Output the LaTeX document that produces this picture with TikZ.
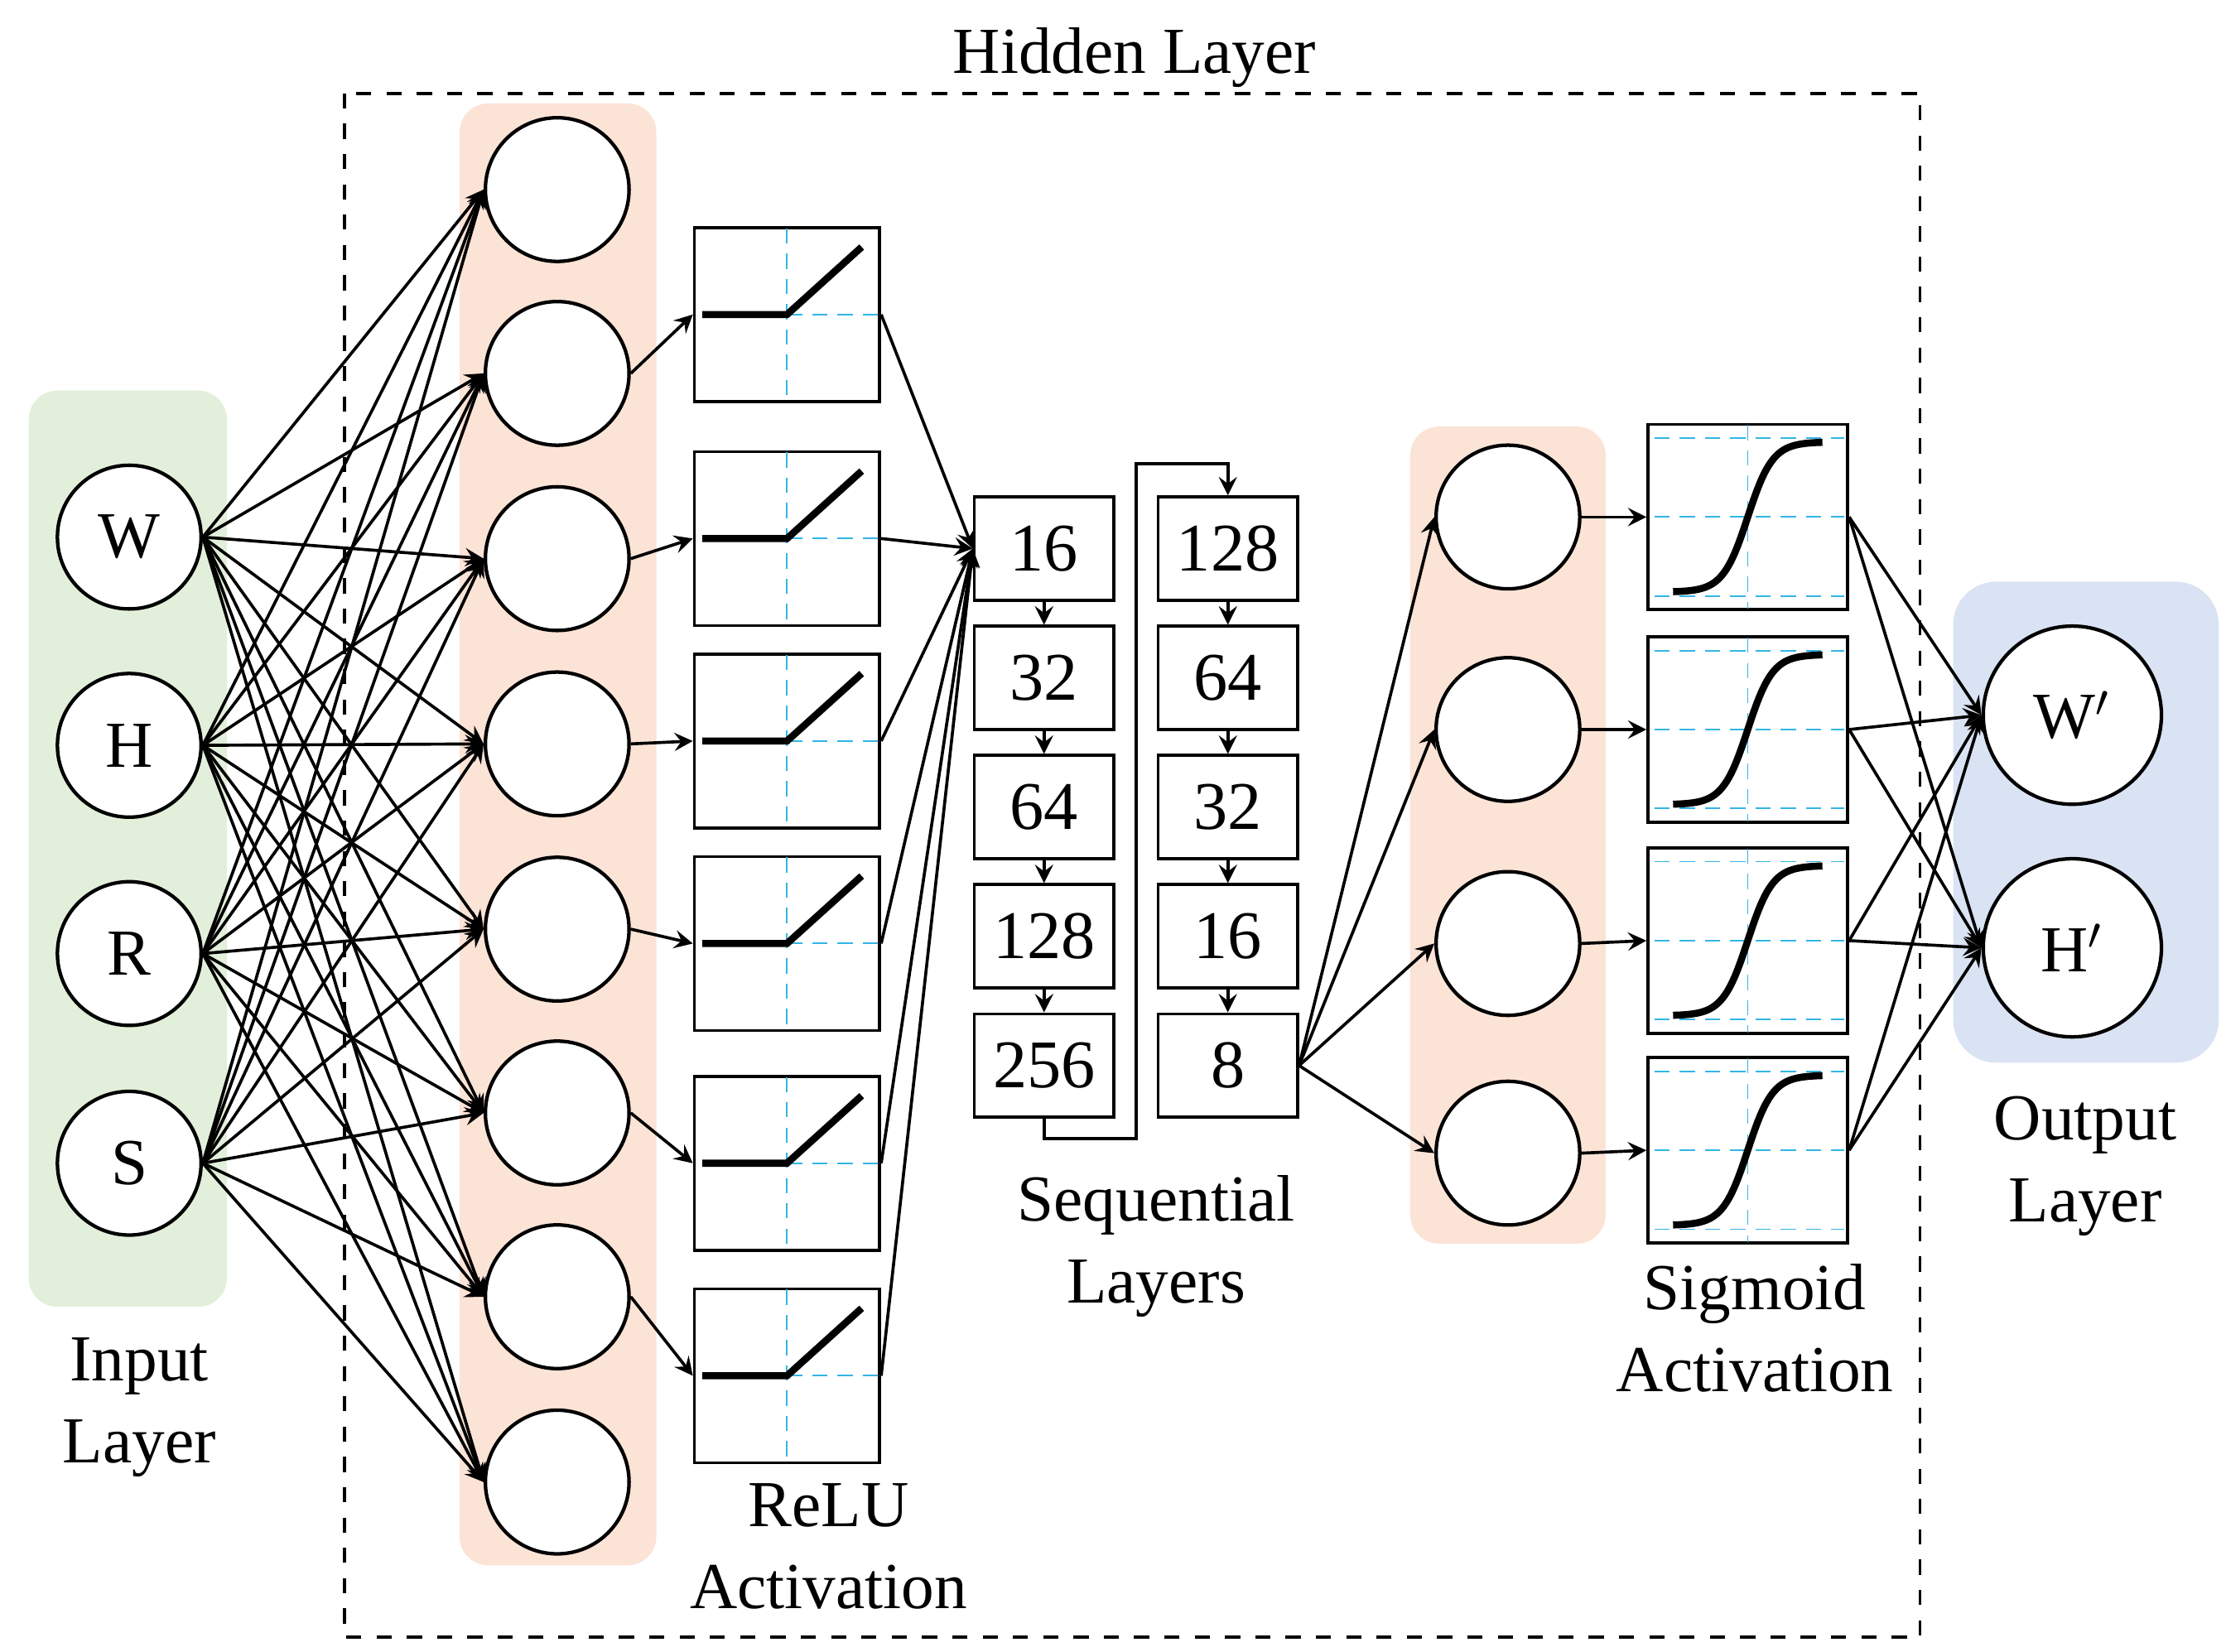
\documentclass[tikz,border=0pt]{standalone}
\usepackage{fontspec}
\setmainfont{Liberation Serif}
\usetikzlibrary{arrows, positioning, shapes.geometric}
\definecolor{inbg}{HTML}{E2EFDA}
\definecolor{hidbg}{HTML}{FBE3D6}
\definecolor{outbg}{HTML}{DAE3F3}
\definecolor{grid}{HTML}{33B5E5}
\tikzstyle{neuron} = [circle, draw=black, line width=0.7pt, fill=white, minimum size=1cm, inner sep=0pt, font=\fontsize{13}{15}\selectfont]
\tikzstyle{outneuron} = [circle, draw=black, line width=0.7pt, fill=white, minimum size=1.24cm, inner sep=0pt, font=\fontsize{13}{15}\selectfont]
\tikzstyle{layerbox} = [rectangle, draw=black, line width=0.6pt, minimum width=0.97cm, minimum height=0.72cm, inner sep=0pt, font=\fontsize{13.5}{15}\selectfont]
\tikzstyle{plotbox} = [rectangle, draw=black, line width=0.6pt, minimum width=1.29cm, minimum height=1.21cm, inner sep=0pt]
\tikzstyle{sigbox} = [rectangle, draw=black, line width=0.6pt, minimum width=1.39cm, minimum height=1.29cm, inner sep=0pt]
\tikzstyle{caption} = [align=center, font=\fontsize{13}{16.2}\selectfont]
\tikzstyle{arrow} = [line width=0.6pt,->,>=stealth]
\tikzstyle{guide} = [grid, densely dashed, line width=0.3pt]

\begin{document}
\begin{tikzpicture}[x=0.01cm, y=-0.01cm]
\useasboundingbox (0,0) rectangle (1550,1150);

% Backgrounds
\fill[inbg, rounded corners=0.2cm] (20,272) rectangle (158,910);
\fill[hidbg, rounded corners=0.2cm] (320,72) rectangle (457,1090);
\fill[hidbg, rounded corners=0.2cm] (982,297) rectangle (1118,866);
\fill[outbg, rounded corners=0.3cm] (1360,405) rectangle (1545,740);
\draw[dashed, line width=0.6pt] (240,65) rectangle (1337,1140);
\node at (790,40) [font=\fontsize{13}{15}\selectfont] {Hidden Layer};

% Input layer
\foreach \y/\t [count=\i] in {374/W, 519/H, 664/R, 810/S}
  \node (in\i) [neuron] at (90,\y) {\t};
\node at (97,980) [caption] {Input\\Layer};

% First hidden layer
\foreach \y [count=\i] in {132,260,389,518,647,775,903,1032}
  \node (hid\i) [neuron] at (388,\y) {};
\foreach \i in {1,...,4}
  \foreach \j in {1,...,8}
    \draw [arrow] (in\i.east) -- (hid\j.west);

% ReLU activation
\foreach \y [count=\i] in {219,375,516,657,810,958} {
  \node (relu\i) [plotbox] at (548,\y) {};
  \draw [guide] (548,\y-60) -- (548,\y+60);
  \draw [guide] (548,\y) -- (612,\y);
  \draw [line width=1.4pt] (489,\y) -- (548,\y) -- (600,\y-47);
}
\foreach \i [evaluate=\i as \j using int(\i+1)] in {1,...,6}
  \draw [arrow] (hid\j.east) -- (relu\i.west);
\node at (577,1077) [caption] {ReLU\\Activation};

% Sequential layers
\foreach \y/\t [count=\i] in {382/16, 472/32, 562/64, 652/128, 742/256}
  \node (enc\i) [layerbox] at (727,\y) {\t};
\foreach \y/\t [count=\i] in {382/128, 472/64, 562/32, 652/16, 742/8}
  \node (dec\i) [layerbox] at (855,\y) {\t};
\foreach \i [evaluate=\i as \j using int(\i+1)] in {1,...,4} {
  \draw [arrow] (enc\i) -- (enc\j);
  \draw [arrow] (dec\i) -- (dec\j);
}
\foreach \i in {1,...,6}
  \draw [arrow] (relu\i.east) -- (enc1.west);
\draw [arrow] (enc5.south) |- (791,793) -- (791,323) -| (dec1.north);
\node at (805,868) [caption] {Sequential\\Layers};

% Second hidden layer
\foreach \y [count=\i] in {360,508,657,803} {
  \node (hidb\i) [neuron] at (1050,\y) {};
  \draw [arrow] (dec5.east) -- (hidb\i.west);
}

% Sigmoid activation
\foreach \y [count=\i] in {360,508,655,801} {
  \node (sig\i) [sigbox] at (1217,\y) {};
  \draw [guide] (1217,\y-64) -- (1217,\y+64);
  \foreach \d in {-55,0,55}
    \draw [guide] (1152,\y+\d) -- (1284,\y+\d);
  \draw [line width=1.4pt, domain=-1:1, samples=40, smooth]
    plot ({1217+52*\x}, {\y-52*tanh(3*\x)/tanh(3)});
  \draw [arrow] (hidb\i.east) -- (sig\i.west);
}
\node at (1222,925) [caption] {Sigmoid\\Activation};

% Output layer
\node (outW) [outneuron] at (1443,498) {W$'$};
\node (outH) [outneuron] at (1443,660) {H$'$};
\foreach \i in {1,...,4} {
  \draw [arrow] (sig\i.east) -- (outW.west);
  \draw [arrow] (sig\i.east) -- (outH.west);
}
\node at (1452,812) [caption] {Output\\Layer};

\end{tikzpicture}
\end{document}
